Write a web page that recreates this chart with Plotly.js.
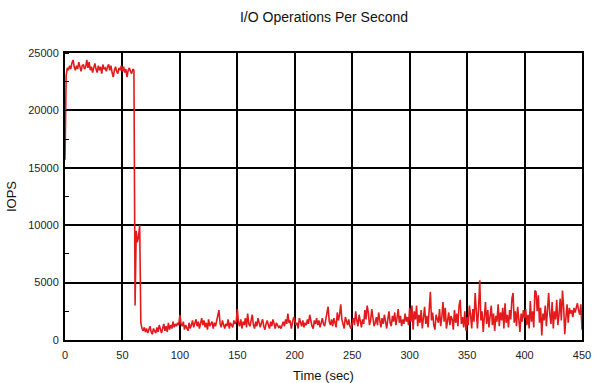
<!DOCTYPE html>
<html>
<head>
<meta charset="utf-8">
<script src="https://cdn.plot.ly/plotly-3.0.1.min.js"></script>
<style>html,body{margin:0;padding:0;background:#fff;}#chart{width:600px;height:383px;}</style>
</head>
<body>
<div id="chart"></div>
<script>
const title = "I/O Operations Per Second";
const xLabel = "Time (sec)";
const yLabel = "IOPS";
const xTicks = [0, 50, 100, 150, 200, 250, 300, 350, 400, 450];
const yTicks = [0, 5000, 10000, 15000, 20000, 25000];

const iopsHigh = [
15700, 23000, 23700, 23500, 23900, 23600, 24100, 24400, 23800, 23500,
23900, 23600, 24200, 23700, 23400, 23900, 24000, 23600, 23800, 24400,
23700, 24200, 23500, 23800, 23300, 23700, 24100, 23600, 23300, 23900,
23500, 23800, 23200, 24000, 23600, 23700, 23400, 23800, 24000, 23500,
23900, 23300, 22900, 23500, 23800, 23400, 23200, 23700, 23500, 23900,
23400, 23800, 23300, 23600, 22900, 23500, 23700, 23400, 23200, 23600,
23500, 3000, 9500, 8500, 9000, 10000, 1500, 1000, 800, 1100
];
const iopsLow1 = [
700, 1000, 600, 900, 1200, 700, 500, 1000, 800, 600,
1100, 700, 1300, 900, 600, 1000, 1400, 800, 1200, 700,
1500, 900, 1300, 1000, 1600, 1100, 1400, 1200, 1500, 1300,
2200, 1400, 1200, 1600, 900, 1300, 1100, 800, 1500, 1000,
1300, 1700, 1100, 1500, 1800, 1200, 1600, 1000, 1400, 1900,
1300, 1700, 1100, 1500, 900, 1800, 1200, 1400, 1600, 1000,
1500, 1200, 1700, 2000, 2600, 1400, 1100, 1700, 1300, 1000,
1400, 1200, 1800, 1000, 1500, 1300, 1100, 1700, 1400, 1600,
2700, 1500, 1200, 1800, 1000, 1600, 1300, 1900, 1100, 2300,
1400, 1200, 1700, 2200, 1300, 1000, 1600, 1200, 1900, 1400,
1100, 1500, 1800, 1200, 900, 1400, 1700, 1300, 1000, 1600,
1200, 1800, 1400, 1000, 1500, 1300, 1100, 1200, 1000, 1300,
1600, 1200, 1800, 1400, 2300, 1500, 1700, 1000, 1400, 2000
];
const iopsLow2 = [
1700, 1300, 1500, 1000, 1900, 1400, 1200, 1700, 1100, 1500,
1300, 1800, 1400, 2200, 1600, 1200, 1000, 1700, 1400, 1900,
1300, 1700, 1100, 1500, 1900, 1400, 1200, 1800, 2500, 2900,
1600, 1300, 1800, 1200, 1900, 1500, 1100, 2400, 1700, 2200,
3100, 1800, 1400, 1000, 2000, 1500, 1300, 1800, 1200, 1000,
1400, 1900, 1300, 2500, 1700, 1200, 2200, 1500, 1100, 1800,
1400, 2600, 1800, 3000, 2400, 1300, 1700, 2700, 2000, 1200,
1500, 2000, 1300, 2400, 1700, 1100, 1900, 1400, 2200, 1600,
1000, 1800, 2500, 1500, 1200, 2100, 1600, 2400, 1300, 1900,
2700, 1500, 2100, 1200, 1800, 1400, 2300, 1600, 2000, 1300
];
const iopsLow3 = [
2800, 1600, 3000, 900, 2500, 1800, 3000, 1200, 2200, 1500,
2600, 1000, 1900, 2900, 1400, 2100, 1100, 3200, 4200, 1700,
2400, 1300, 900, 2200, 1800, 1500, 2700, 1200, 2000, 3300,
1600, 2800, 1000, 1700, 2400, 1300, 2100, 1800, 900, 2600,
1500, 2300, 1200, 3000, 3500, 1400, 2000, 1100, 2500, 800,
2000, 1300, 3000, 2200, 1000, 2700, 1600, 4100, 2300, 1000,
2800, 5200, 1700, 2500, 700, 2000, 3300, 1400, 2600, 1100,
1900, 3000, 1300, 2300, 800, 2100, 1600, 3100, 1200, 2400,
1700, 2800, 1000, 3200, 1500, 2200, 1100, 2600, 1800, 3600,
4100, 1500, 2500, 1200, 2900, 1800, 700, 2300, 1600, 2600,
1900, 2700, 1300, 2200, 1000, 3400, 1600, 2500, 1100, 4300,
4200, 2500, 3900, 1500, 2800, 400, 2300, 1700, 3000, 1200,
2600, 4100, 2200, 1400, 3300, 1000, 2500, 1800, 3500, 1300,
2200, 3600, 1700, 4300, 2900, 500, 2000, 3100, 1500, 2800,
2300, 2600, 2000, 2800, 2400, 3000, 3200, 2600, 2200, 3100,
900
];

const iops = iopsHigh.concat(iopsLow1, iopsLow2, iopsLow3);
const seconds = iops.map((_, i) => i);

const font = {family: "Liberation Sans, Arial, sans-serif", size: 11, color: "#222"};

const trace = {
  x: seconds, y: iops, type: "scatter", mode: "lines",
  line: {color: "#e31a1c", width: 1.6}, hoverinfo: "skip"
};

const layout = {
  width: 600, height: 383,
  margin: {l: 65, r: 18, t: 53, b: 43, pad: 0},
  paper_bgcolor: "#fff", plot_bgcolor: "#fff",
  showlegend: false,
  font: font,
  title: {text: title, font: {family: "Liberation Sans, Arial, sans-serif", size: 14, color: "#111"}, x: 0.54, xanchor: "center", y: 0.955, yanchor: "middle"},
  xaxis: {
    range: [0, 450], tickvals: xTicks, ticktext: xTicks.map(String),
    showgrid: true, gridcolor: "#000", gridwidth: 2,
    showline: true, linecolor: "#000", linewidth: 2, mirror: true,
    ticks: "", zeroline: false, tickfont: font, ticklabelstandoff: 4,
    title: {text: xLabel, font: {family: "Liberation Sans, Arial, sans-serif", size: 13, color: "#111"}, standoff: 11}
  },
  yaxis: {
    range: [0, 25000], tickvals: yTicks, ticktext: yTicks.map(String),
    showgrid: true, gridcolor: "#000", gridwidth: 2,
    showline: true, linecolor: "#000", linewidth: 2, mirror: true,
    ticks: "", zeroline: false, tickfont: font, ticklabelstandoff: 2,
    minor: {dtick: 2500, ticks: "inside", ticklen: 4, tickcolor: "#000", tickwidth: 1, showgrid: false},
    title: {text: yLabel, font: {family: "Liberation Sans, Arial, sans-serif", size: 13, color: "#111"}, standoff: 9}
  }
};

Plotly.newPlot("chart", [trace], layout, {displayModeBar: false, staticPlot: true});
</script>
</body>
</html>
